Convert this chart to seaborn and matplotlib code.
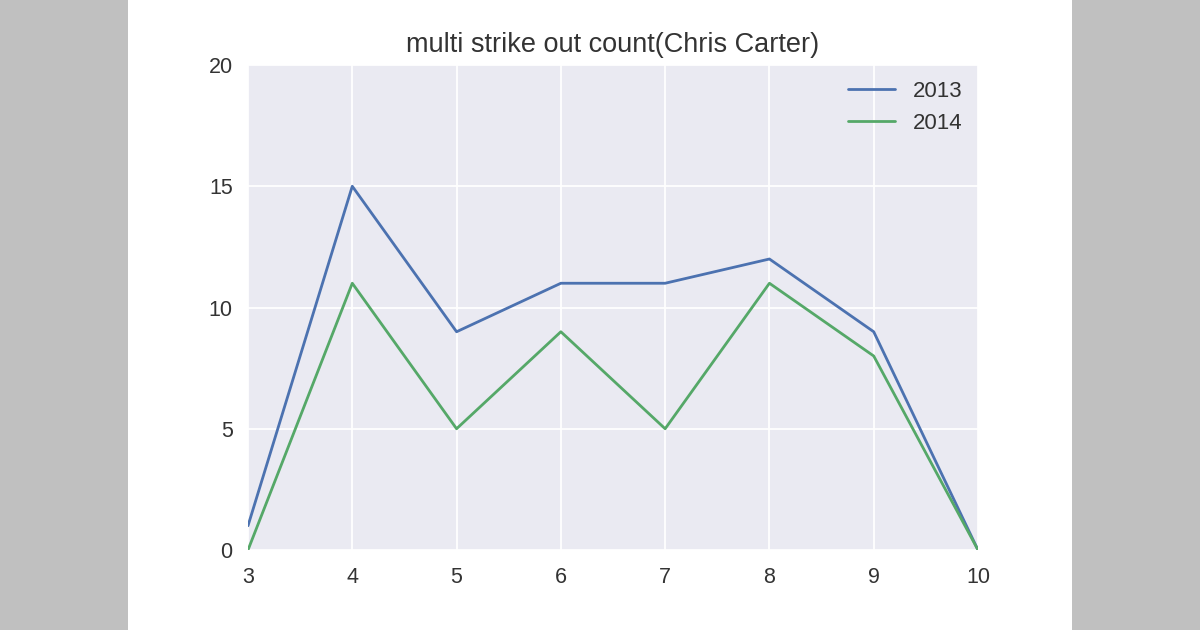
import pandas as pd
import seaborn as sns
import matplotlib.pyplot as plt
import matplotlib.patches as mpatches

# strike-out counts per game
strikeouts = [3, 4, 5, 6, 7, 8, 9, 10]
count_2013 = [1, 15, 9, 11, 11, 12, 9, 0]
count_2014 = [0, 11, 5, 9, 5, 11, 8, 0]
years = ['2013', '2014']

df = pd.DataFrame({
    'strikeouts': strikeouts * 2,
    'count': count_2013 + count_2014,
    'year': [years[0]] * len(strikeouts) + [years[1]] * len(strikeouts),
})

sns.set_theme(style="darkgrid")
plt.rcParams['font.family'] = ['Liberation Sans', 'DejaVu Sans']

fig = plt.figure(figsize=(12, 6.3), dpi=100)
fig.patch.set_facecolor('white')
# grey blurred strips at both sides of the screenshot
fig.patches.append(mpatches.Rectangle((0, 0), 128 / 1200, 1, transform=fig.transFigure,
                                      facecolor='#c0c0c0', edgecolor='none', zorder=0))
fig.patches.append(mpatches.Rectangle((1072 / 1200, 0), 128 / 1200, 1, transform=fig.transFigure,
                                      facecolor='#c0c0c0', edgecolor='none', zorder=0))

ax = fig.add_axes([248 / 1200, 1 - 550 / 630, 730 / 1200, 485 / 630])
ax.set_facecolor('#eaeaf2')
palette = {'2013': '#4c72b0', '2014': '#55a868'}
sns.lineplot(data=df, x='strikeouts', y='count', hue='year', palette=palette,
             linewidth=2, ax=ax)

ax.set_xlim(3, 10)
ax.set_ylim(0, 20)
ax.set_xticks(strikeouts)
ax.set_yticks([0, 5, 10, 15, 20])
ax.set_xlabel('')
ax.set_ylabel('')
ax.set_title('multi strike out count(Chris Carter)', fontsize=19.5, color='#333333', pad=9)
ax.tick_params(axis='both', labelsize=15.5, colors='#333333', length=0)
ax.tick_params(axis='x', pad=12.5)
ax.tick_params(axis='y', pad=11)
ax.grid(color='white', linewidth=1.3)
for s in ax.spines.values():
    s.set_visible(False)

leg = ax.legend(loc='upper right', frameon=False, fontsize=16, handlelength=2.1,
                labelspacing=0.5, borderaxespad=0.3)
leg.set_title(None)
for t in leg.get_texts():
    t.set_color('#333333')

fig.savefig('out.png', dpi=100)
